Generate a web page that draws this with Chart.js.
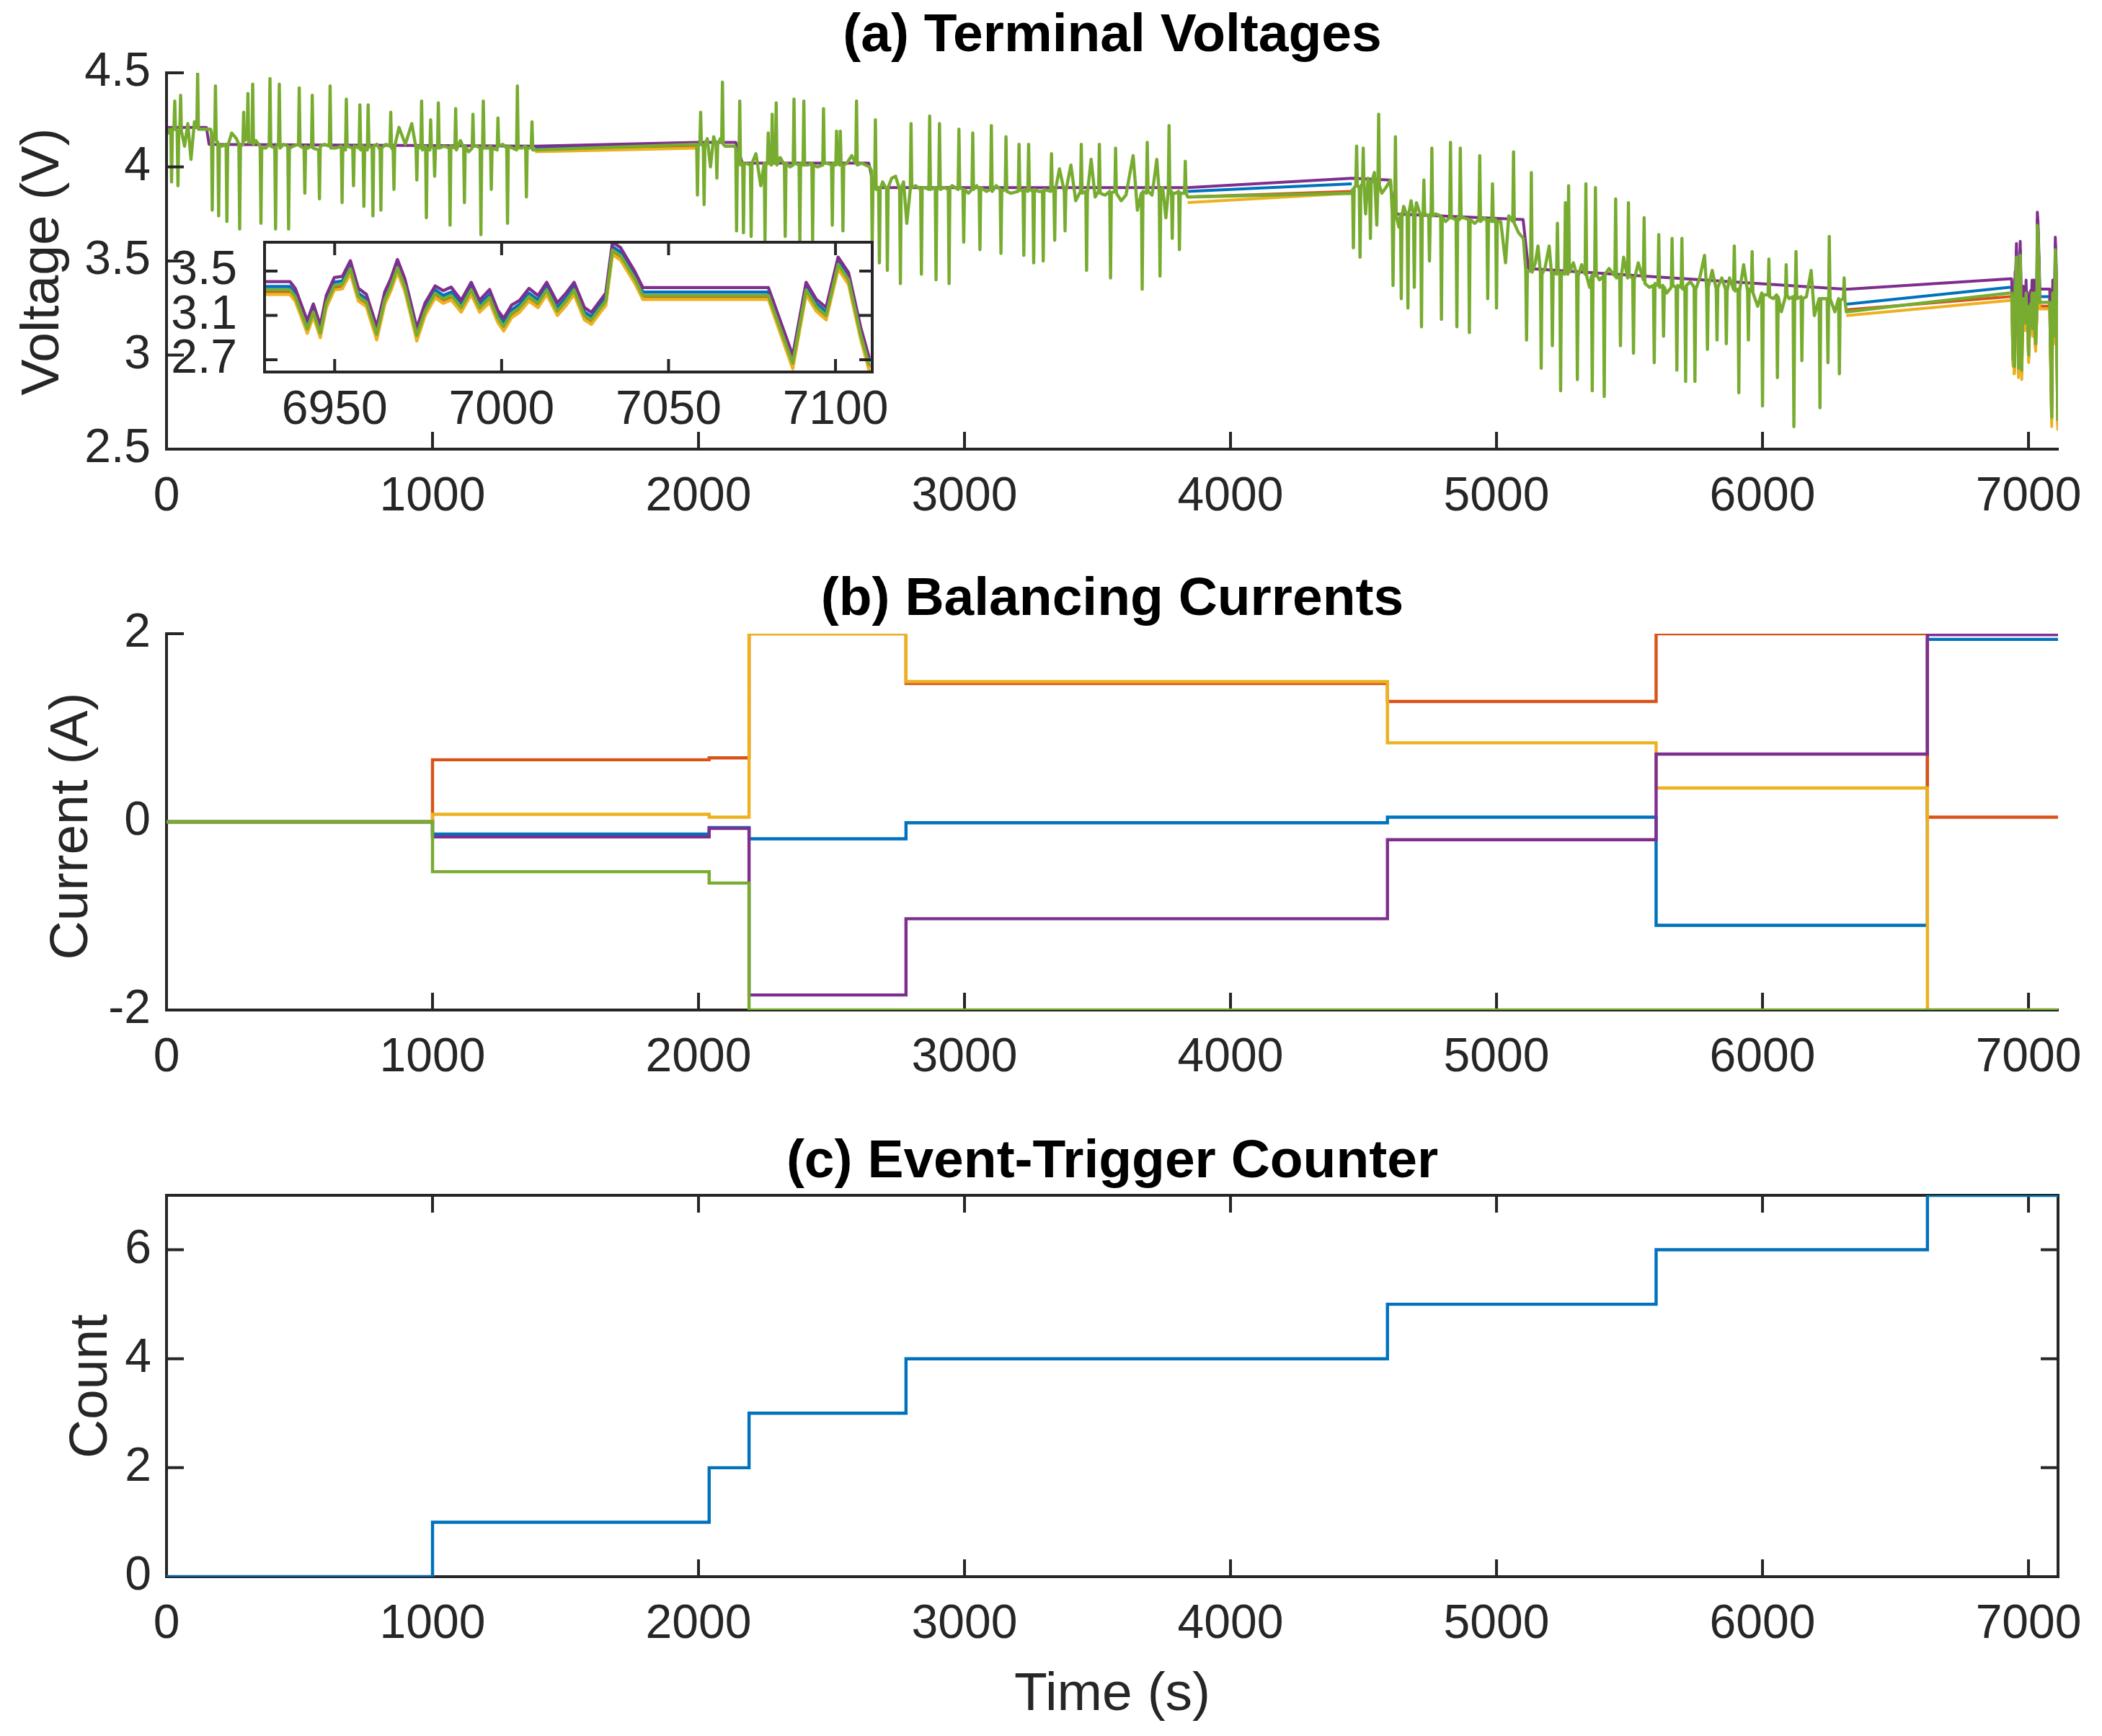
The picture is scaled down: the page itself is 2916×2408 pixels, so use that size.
<!DOCTYPE html>
<html>
<head>
<meta charset="utf-8">
<title>Terminal voltages, balancing currents and event-trigger counter</title>
<script src="https://cdn.jsdelivr.net/npm/chart.js@4.4.1/dist/chart.umd.min.js"></script>
<style>
  html, body { margin: 0; padding: 0; background: #fff; }
  #fig { position: relative; width: 2916px; height: 2408px; background: #fff; overflow: hidden; }
  #fig canvas { position: absolute; left: 0; }
</style>
</head>
<body>
<div id="fig">
  <canvas id="voltChart" width="2916" height="780" style="top:0"></canvas>
  <canvas id="insetChart" width="1300" height="390" style="top:250px"></canvas>
  <canvas id="currentChart" width="2916" height="760" style="top:780px"></canvas>
  <canvas id="countChart" width="2916" height="868" style="top:1540px"></canvas>
</div>
<script>
// ---- tick labels ----
const timeTicks = [0, 1000, 2000, 3000, 4000, 5000, 6000, 7000];
const voltTicks = [2.5, 3, 3.5, 4, 4.5];
const currentTicks = [-2, 0, 2];
const countTicks = [0, 2, 4, 6];
const insetTimeTicks = [6950, 7000, 7050, 7100];
const insetVoltTicks = [2.7, 3.1, 3.5];

const cellNames = ['Cell 1', 'Cell 2', 'Cell 3', 'Cell 4', 'Cell 5'];

// ---- (a) terminal voltage of cell 5 (green, drawn on top) ----
const burst1Time = [0, 8, 16, 19, 22, 28, 31, 34, 40, 43,
  46, 50, 53, 56, 68, 80, 92, 105, 114, 117,
  120, 127, 166, 169, 172, 175, 181, 184, 187, 193,
  196, 199, 208, 224, 227, 230, 245, 263, 272, 275,
  278, 287, 290, 293, 303, 306, 309, 321, 324, 327,
  336, 352, 355, 358, 373, 386, 389, 392, 407, 410,
  413, 421, 424, 427, 440, 456, 459, 462, 477, 496,
  499, 502, 517, 520, 523, 532, 545, 548, 551, 572,
  575, 578, 593, 612, 615, 618, 636, 657, 660, 663,
  673, 676, 679, 700, 703, 706, 724, 727, 730, 739,
  742, 745, 755, 758, 761, 773, 776, 779, 791, 803,
  806, 809, 825, 840, 843, 846, 852, 855, 858, 874,
  898, 922, 938, 941, 944, 956, 959, 962, 974, 977,
  980, 990, 993, 996, 1005, 1008, 1011, 1019, 1022, 1025,
  1044, 1063, 1066, 1069, 1084, 1087, 1090, 1105, 1117, 1120,
  1123, 1136, 1149, 1152, 1155, 1167, 1179, 1182, 1185, 1188,
  1191, 1194, 1209, 1218, 1221, 1224, 1243, 1246, 1249, 1264,
  1279, 1282, 1285, 1301, 1316, 1319, 1322, 1337, 1350, 1353,
  1356, 1371, 1374, 1377, 1386];
const burst1Cell5 = [4.21, 4.18, 4.20, 3.92, 4.19, 4.21, 4.35, 4.20, 4.19, 3.90,
  4.18, 4.20, 4.38, 4.19, 4.11, 4.23, 4.04, 4.24, 4.21, 4.50,
  4.20, 4.20, 4.20, 4.18, 3.77, 4.17, 4.15, 4.43, 4.14, 4.13,
  3.74, 4.12, 4.11, 4.12, 3.71, 4.11, 4.18, 4.15, 4.12, 3.67,
  4.11, 4.12, 4.29, 4.14, 4.15, 4.39, 4.13, 4.13, 4.44, 4.12,
  4.14, 4.11, 3.70, 4.10, 4.10, 4.12, 4.47, 4.11, 4.10, 3.67,
  4.11, 4.12, 4.44, 4.10, 4.12, 4.11, 3.67, 4.10, 4.11, 4.12,
  4.42, 4.11, 4.10, 3.86, 4.11, 4.10, 4.11, 4.38, 4.10, 4.09,
  3.83, 4.11, 4.12, 4.11, 4.43, 4.10, 4.10, 4.11, 3.81, 4.10,
  4.09, 4.36, 4.11, 4.10, 3.90, 4.11, 4.10, 4.33, 4.09, 4.11,
  3.79, 4.10, 4.09, 4.33, 4.11, 4.10, 3.74, 4.11, 4.12, 4.09,
  3.77, 4.10, 4.12, 4.11, 4.29, 4.10, 4.09, 3.88, 4.11, 4.21,
  4.12, 4.23, 4.10, 3.93, 4.11, 4.10, 4.35, 4.09, 4.11, 3.73,
  4.10, 4.09, 4.25, 4.11, 4.10, 3.95, 4.09, 4.11, 4.34, 4.10,
  4.11, 4.10, 3.69, 4.11, 4.10, 4.31, 4.09, 4.14, 4.10, 3.81,
  4.11, 4.08, 4.10, 4.28, 4.11, 4.11, 4.10, 3.64, 4.09, 4.11,
  4.35, 4.10, 4.10, 4.11, 3.88, 4.10, 4.09, 4.26, 4.11, 4.12,
  4.10, 3.70, 4.11, 4.10, 4.09, 4.43, 4.10, 4.10, 4.11, 3.84,
  4.10, 4.10, 4.24, 4.09, 4.09];

const burst2Time = [1990, 1993, 1996, 1999, 2005, 2008, 2011, 2018, 2021, 2024,
  2033, 2045, 2057, 2066, 2069, 2072, 2082, 2087, 2090, 2093,
  2100, 2136, 2140, 2143, 2146, 2152, 2155, 2158, 2166, 2169,
  2172, 2179, 2195, 2198, 2201, 2216, 2234, 2247, 2250, 2253,
  2259, 2262, 2265, 2274, 2277, 2280, 2289, 2292, 2295, 2307,
  2323, 2326, 2329, 2344, 2356, 2359, 2362, 2378, 2381, 2384,
  2393, 2396, 2399, 2411, 2426, 2429, 2432, 2448, 2467, 2470,
  2473, 2484, 2500, 2503, 2506, 2516, 2519, 2522, 2530, 2533,
  2536, 2540, 2543, 2546, 2558, 2576, 2591, 2594, 2597, 2613,
  2643, 2650, 2653, 2656, 2662, 2665, 2668, 2677, 2680, 2683,
  2692, 2707, 2710, 2713, 2726, 2741, 2756, 2759, 2762, 2771,
  2783, 2796, 2799, 2802, 2816, 2835, 2838, 2841, 2851, 2866,
  2869, 2872, 2890, 2893, 2896, 2903, 2906, 2909, 2924, 2939,
  2942, 2945, 2954, 2976, 2979, 2982, 2994, 2997, 3000, 3015,
  3028, 3031, 3034, 3046, 3055, 3058, 3061, 3082, 3098, 3101,
  3104, 3119, 3134, 3137, 3140, 3153, 3156, 3159, 3174, 3202,
  3205, 3208, 3220, 3223, 3226, 3238, 3241, 3244, 3257, 3260,
  3263, 3278, 3293, 3296, 3299, 3324, 3327, 3330, 3336, 3339,
  3342, 3357, 3375, 3378, 3381, 3400, 3418, 3436, 3439, 3442,
  3456, 3459, 3462, 3476, 3491, 3504, 3507, 3510, 3528, 3546,
  3549, 3552, 3565, 3568, 3571, 3589, 3607, 3634, 3650, 3665,
  3668, 3671, 3684, 3687, 3690, 3705, 3723, 3732, 3735, 3738,
  3745, 3757, 3766, 3769, 3772, 3778, 3781, 3784, 3793, 3805,
  3808, 3811, 3827, 3830, 3833, 3839];
const burst2Cell5 = [4.12, 4.12, 3.85, 4.11, 4.12, 4.29, 4.12, 4.11, 3.80, 4.12,
  4.15, 4.00, 4.16, 4.12, 3.94, 4.12, 4.15, 4.13, 4.45, 4.12,
  4.11, 4.11, 4.10, 3.66, 4.02, 4.02, 4.35, 4.01, 4.02, 3.65,
  4.01, 4.02, 4.01, 3.63, 4.02, 4.07, 3.90, 4.02, 3.61, 4.01,
  4.02, 4.18, 4.02, 4.01, 4.28, 4.02, 4.02, 4.34, 4.01, 4.05,
  4.01, 3.63, 4.02, 4.00, 4.01, 4.36, 4.02, 4.01, 3.60, 4.02,
  4.01, 4.35, 4.01, 4.01, 4.02, 3.61, 4.01, 4.00, 4.01, 4.31,
  4.02, 4.02, 4.01, 3.69, 4.02, 4.01, 4.19, 4.02, 4.01, 4.19,
  4.02, 4.01, 3.66, 4.01, 4.02, 4.06, 4.02, 4.35, 4.01, 4.02,
  4.00, 3.98, 3.60, 3.90, 3.89, 4.25, 3.88, 3.89, 3.49, 3.88,
  3.92, 3.88, 3.45, 3.89, 3.94, 3.95, 3.88, 3.38, 3.89, 3.92,
  3.70, 3.88, 4.23, 3.89, 3.90, 3.88, 3.43, 3.89, 3.89, 3.88,
  4.27, 3.88, 3.89, 3.40, 3.88, 3.89, 4.23, 3.88, 3.89, 3.88,
  3.38, 3.89, 3.90, 3.88, 4.20, 3.89, 3.88, 3.60, 3.88, 3.86,
  3.88, 4.18, 3.88, 3.90, 3.88, 3.56, 3.89, 3.87, 3.88, 4.22,
  3.87, 3.90, 3.88, 3.54, 3.87, 3.88, 4.16, 3.87, 3.86, 3.87,
  4.12, 3.88, 3.87, 3.53, 3.88, 3.87, 4.12, 3.88, 3.87, 3.49,
  3.88, 3.87, 3.87, 3.50, 3.88, 3.87, 4.07, 3.88, 3.87, 3.61,
  3.88, 3.99, 3.87, 3.66, 3.87, 4.01, 3.82, 3.87, 4.12, 3.86,
  3.87, 3.45, 3.86, 4.04, 3.84, 3.87, 4.12, 3.86, 3.85, 3.87,
  3.41, 3.86, 3.87, 4.10, 3.86, 3.82, 3.85, 4.06, 3.77, 3.86,
  3.35, 3.87, 3.86, 4.13, 3.87, 3.85, 4.04, 3.86, 3.42, 3.87,
  3.89, 3.73, 3.87, 4.22, 3.86, 3.87, 3.62, 3.86, 3.86, 3.87,
  3.56, 3.86, 3.86, 4.03, 3.86, 3.84];

const burst3Time = [4456, 4459, 4462, 4465, 4471, 4474, 4477, 4484, 4487, 4490,
  4496, 4499, 4502, 4508, 4517, 4523, 4526, 4529, 4541, 4550,
  4554, 4557, 4560, 4569, 4584, 4602, 4608, 4611, 4614, 4617,
  4620, 4623, 4633, 4639, 4642, 4645, 4651, 4664, 4667, 4670,
  4679, 4688, 4691, 4694, 4699, 4715, 4718, 4721, 4724, 4727,
  4730, 4745, 4748, 4751, 4754, 4757, 4760, 4772, 4790, 4793,
  4796, 4809, 4824, 4827, 4830, 4848, 4851, 4854, 4861, 4864,
  4867, 4876, 4895, 4898, 4901, 4918, 4934, 4937, 4940, 4955,
  4964, 4967, 4970, 4982, 4985, 4988, 4997, 5000, 5003, 5016,
  5034, 5046, 5061, 5064, 5067, 5083, 5101, 5110, 5113, 5116,
  5128, 5131, 5134, 5146, 5156, 5165, 5168, 5171, 5182, 5198,
  5207, 5210, 5213, 5226, 5229, 5232, 5238, 5241, 5244, 5256,
  5259, 5262, 5268, 5271, 5274, 5289, 5301, 5304, 5307, 5320,
  5333, 5336, 5339, 5350, 5357, 5360, 5363, 5369, 5372, 5375,
  5387, 5402, 5405, 5408, 5423, 5445, 5448, 5451, 5463, 5466,
  5469, 5478, 5493, 5496, 5499, 5512, 5515, 5518, 5533, 5552,
  5555, 5558, 5575, 5590, 5593, 5596, 5607, 5610, 5613, 5625,
  5628, 5631, 5640, 5657, 5660, 5663, 5675, 5678, 5681, 5694,
  5697, 5700, 5708, 5711, 5714, 5729, 5743, 5746, 5749, 5764,
  5782, 5790, 5793, 5796, 5811, 5826, 5829, 5832, 5847, 5861,
  5864, 5867, 5876, 5891, 5894, 5897, 5908, 5911, 5914, 5929,
  5944, 5947, 5950, 5958, 5961, 5964, 5982, 5997, 6000, 6003,
  6021, 6024, 6027, 6041, 6053, 6056, 6059, 6071, 6086, 6089,
  6092, 6100, 6115, 6118, 6121, 6123, 6126, 6129, 6145, 6148,
  6151, 6165, 6183, 6195, 6213, 6216, 6219, 6230, 6243, 6246,
  6249, 6251, 6254, 6272, 6286, 6289, 6292, 6304, 6307, 6310,
  6315];
const burst3Cell5 = [3.86, 3.88, 3.57, 3.89, 3.90, 4.11, 3.90, 3.89, 3.52, 3.90,
  3.91, 4.10, 3.90, 3.75, 3.94, 3.90, 3.62, 3.91, 3.97, 3.69,
  3.90, 4.28, 3.90, 3.86, 3.89, 3.93, 3.76, 3.37, 3.75, 3.75,
  4.16, 3.74, 3.68, 3.75, 3.30, 3.74, 3.79, 3.74, 3.25, 3.75,
  3.82, 3.74, 3.36, 3.75, 3.81, 3.74, 3.15, 3.75, 3.74, 3.93,
  3.75, 3.74, 3.50, 3.75, 3.74, 4.10, 3.74, 3.75, 3.74, 3.19,
  3.73, 3.71, 3.73, 4.13, 3.73, 3.72, 3.15, 3.73, 3.72, 4.10,
  3.73, 3.73, 3.72, 3.12, 3.72, 3.70, 3.72, 4.06, 3.71, 3.73,
  3.71, 3.30, 3.72, 3.71, 3.91, 3.71, 3.72, 3.25, 3.71, 3.71,
  3.49, 3.74, 3.71, 4.08, 3.70, 3.65, 3.62, 3.45, 3.08, 3.44,
  3.45, 3.97, 3.44, 3.49, 3.58, 3.44, 2.93, 3.43, 3.46, 3.58,
  3.43, 3.05, 3.44, 3.43, 3.70, 3.44, 3.43, 2.81, 3.44, 3.43,
  3.81, 3.44, 3.43, 3.90, 3.44, 3.49, 3.43, 2.87, 3.42, 3.48,
  3.43, 3.91, 3.42, 3.36, 3.42, 2.81, 3.43, 3.42, 3.89, 3.43,
  3.40, 3.42, 2.78, 3.43, 3.46, 3.42, 3.83, 3.41, 3.42, 3.05,
  3.41, 3.52, 3.41, 3.81, 3.42, 3.41, 3.01, 3.40, 3.49, 3.40,
  3.73, 3.38, 3.36, 3.37, 2.96, 3.38, 3.37, 3.64, 3.36, 3.37,
  3.10, 3.36, 3.33, 3.36, 3.62, 3.37, 3.36, 2.92, 3.37, 3.36,
  3.62, 3.35, 3.36, 2.86, 3.37, 3.39, 3.36, 2.86, 3.35, 3.41,
  3.53, 3.35, 3.03, 3.36, 3.45, 3.35, 3.08, 3.36, 3.41, 3.35,
  3.06, 3.34, 3.41, 3.35, 3.58, 3.34, 3.35, 2.80, 3.34, 3.48,
  3.34, 3.08, 3.35, 3.34, 3.55, 3.33, 3.26, 3.33, 2.73, 3.32,
  3.32, 3.51, 3.31, 3.30, 3.32, 2.88, 3.31, 3.23, 3.31, 3.48,
  3.32, 3.30, 3.31, 2.62, 3.31, 3.31, 3.55, 3.30, 3.31, 2.97,
  3.30, 3.31, 3.45, 3.21, 3.30, 2.72, 3.30, 3.30, 3.30, 2.96,
  3.31, 3.63, 3.30, 3.23, 3.30, 2.90, 3.29, 3.30, 3.41, 3.29,
  3.23];

// cells 1-4 across the rest periods (null = hidden under the green bursts)
const bandTime = [0, 150, 160, 1386, 1990, 2140, 2165, 2640, 2660, 3839, 4456, 4600, 4615, 5100, 5120, 6315];
const bandCell1 = [null, null, null, 4.10, 4.12, null, null, null, null, 3.87, 3.91, null, null, null, null, 3.27];
const bandCell2 = [null, null, null, 4.09, 4.11, null, null, null, null, 3.84, 3.87, null, null, null, null, 3.24];
const bandCell3 = [null, null, null, 4.08, 4.10, null, null, null, null, 3.81, 3.86, null, null, null, null, 3.21];
const bandCell4 = [4.21, 4.21, 4.12, 4.11, 4.13, 4.13, 4.02, 4.02, 3.89, 3.89, 3.94, 3.93, 3.75, 3.72, 3.46, 3.35];

// last burst, all five cells (also shown in the inset)
const tailTime = [6929, 6936.6, 6938.2, 6941.8, 6943.6, 6945.7, 6947.5, 6949.9, 6952.3, 6954.7,
  6957.1, 6959.5, 6962.6, 6965.0, 6966.8, 6968.8, 6971.0, 6972.8, 6974.6, 6977.1,
  6980.1, 6982.5, 6984.9, 6987.9, 6990.9, 6993.4, 6996.4, 6998.8, 7000.6, 7003.0,
  7005.4, 7008.2, 7010.9, 7013.5, 7016.7, 7019.3, 7021.7, 7024.8, 7026.9, 7029.6,
  7031.2, 7033.2, 7035.6, 7039.9, 7042.3, 7079.9, 7087.2, 7091.2, 7094.2, 7097.2,
  7100.8, 7103.9, 7107.5, 7110.1];
const tailCell1 = [3.36, 3.36, 3.30, 3.01, 3.16, 2.97, 3.24, 3.40, 3.41, 3.55,
  3.30, 3.25, 2.96, 3.27, 3.39, 3.56, 3.39, 3.17, 2.95, 3.17,
  3.33, 3.28, 3.31, 3.20, 3.36, 3.20, 3.29, 3.11, 3.04, 3.15,
  3.20, 3.30, 3.24, 3.36, 3.17, 3.26, 3.36, 3.13, 3.09, 3.20,
  3.26, 3.72, 3.67, 3.46, 3.31, 3.31, 2.70, 3.36, 3.21, 3.13,
  3.59, 3.45, 2.96, 2.68];
const tailCell2 = [3.31, 3.31, 3.25, 2.96, 3.11, 2.92, 3.19, 3.35, 3.36, 3.50,
  3.25, 3.20, 2.91, 3.22, 3.34, 3.51, 3.34, 3.12, 2.90, 3.12,
  3.28, 3.23, 3.26, 3.15, 3.31, 3.15, 3.24, 3.06, 2.98, 3.10,
  3.15, 3.25, 3.19, 3.31, 3.12, 3.21, 3.31, 3.08, 3.04, 3.15,
  3.21, 3.67, 3.62, 3.41, 3.26, 3.26, 2.65, 3.31, 3.16, 3.08,
  3.54, 3.40, 2.91, 2.63];
const tailCell3 = [3.29, 3.29, 3.23, 2.94, 3.09, 2.90, 3.17, 3.33, 3.34, 3.48,
  3.23, 3.18, 2.88, 3.20, 3.32, 3.49, 3.32, 3.10, 2.87, 3.10,
  3.26, 3.21, 3.24, 3.13, 3.29, 3.13, 3.22, 3.04, 2.96, 3.08,
  3.13, 3.23, 3.17, 3.29, 3.10, 3.19, 3.29, 3.06, 3.02, 3.13,
  3.19, 3.65, 3.60, 3.39, 3.245, 3.245, 2.62, 3.29, 3.14, 3.06,
  3.52, 3.38, 2.89, 2.60];
const tailCell4 = [3.405, 3.405, 3.344, 3.052, 3.203, 3.009, 3.279, 3.442, 3.452, 3.593,
  3.344, 3.290, 2.998, 3.312, 3.431, 3.604, 3.431, 3.214, 2.987, 3.214,
  3.366, 3.323, 3.355, 3.236, 3.398, 3.236, 3.333, 3.149, 3.074, 3.193,
  3.236, 3.344, 3.279, 3.398, 3.214, 3.301, 3.398, 3.171, 3.128, 3.236,
  3.301, 3.760, 3.712, 3.496, 3.351, 3.351, 2.738, 3.398, 3.247, 3.171,
  3.626, 3.485, 2.998, 2.716];
const tailCell5 = [3.33, 3.33, 3.27, 2.98, 3.13, 2.94, 3.21, 3.37, 3.38, 3.52,
  3.27, 3.22, 2.93, 3.24, 3.36, 3.53, 3.36, 3.14, 2.92, 3.14,
  3.30, 3.25, 3.28, 3.17, 3.33, 3.17, 3.26, 3.08, 3.00, 3.12,
  3.17, 3.27, 3.21, 3.33, 3.14, 3.23, 3.33, 3.10, 3.06, 3.17,
  3.23, 3.69, 3.64, 3.43, 3.28, 3.28, 2.67, 3.33, 3.18, 3.10,
  3.56, 3.42, 2.93, 2.65];

// ---- (b) balancing currents, (c) counter: value that starts at each switch time ----
const switchTimes = [0, 1000, 2040, 2190, 2780, 4590, 5600, 6620, 7111];
const currentCell1 = [0, -0.13, -0.06, -0.18, -0.01, 0.05, -1.10, 1.94, 1.94];
const currentCell2 = [0, 0.66, 0.68, 2.00, 1.47, 1.28, 2.00, 0.05, 0.05];
const currentCell3 = [0, 0.08, 0.05, 2.00, 1.49, 0.84, 0.36, -2.00, -2.00];
const currentCell4 = [0, -0.16, -0.07, -1.84, -1.03, -0.19, 0.72, 1.99, 1.99];
const currentCell5 = [0, -0.53, -0.65, -2.00, -2.00, -2.00, -2.00, -2.00, -2.00];
const triggerCount = [0, 1, 2, 3, 4, 5, 6, 7, 7];

// ---- styling ----
const AXIS_COLOR = '#262626';
const FONT_FAMILY = '"Liberation Sans", Arial, Helvetica, sans-serif';
const TICK_FONT = { family: FONT_FAMILY, size: 66 };
const CELL_COLORS = ['#0072BD', '#D95319', '#EDB120', '#7E2F8E', '#77AC30'];

Chart.defaults.font.family = FONT_FAMILY;
Chart.defaults.animation = false;

function toPoints(times, values) {
  return times.map((t, i) => ({ x: t, y: values[i] }));
}

function makeScale(opts) {
  return {
    type: 'linear',
    min: opts.min,
    max: opts.max,
    afterBuildTicks: (scale) => { scale.ticks = opts.ticks.map((v) => ({ value: v })); },
    afterFit: (scale) => {
      if (opts.horizontal) scale.height = opts.size; else scale.width = opts.size;
    },
    grid: { display: false, drawTicks: false },
    border: { display: true, color: AXIS_COLOR, width: 4, z: opts.under ? 0 : 1 },
    ticks: {
      color: AXIS_COLOR,
      font: TICK_FONT,
      padding: opts.padding,
      autoSkip: false,
      maxRotation: 0,
      callback: opts.format || ((v) => String(v))
    }
  };
}

// MATLAB-style inward ticks, optional box
function drawTickMarks(chart, opts) {
  const { ctx, chartArea: a } = chart;
  const xs = chart.scales.x;
  const ys = chart.scales.y;
  const len = opts.length || 24;
  ctx.save();
  ctx.strokeStyle = AXIS_COLOR;
  ctx.lineWidth = 4;
  ctx.beginPath();
  xs.ticks.forEach((t) => {
    const px = xs.getPixelForValue(t.value);
    ctx.moveTo(px, a.bottom);
    ctx.lineTo(px, a.bottom - len);
    if (opts.box) { ctx.moveTo(px, a.top); ctx.lineTo(px, a.top + len); }
  });
  ys.ticks.forEach((t) => {
    const py = ys.getPixelForValue(t.value);
    ctx.moveTo(a.left, py);
    ctx.lineTo(a.left + len, py);
    if (opts.box) { ctx.moveTo(a.right, py); ctx.lineTo(a.right - len, py); }
  });
  if (opts.box) {
    ctx.moveTo(a.left - 2, a.top);
    ctx.lineTo(a.right, a.top);
    ctx.lineTo(a.right, a.bottom + 2);
  }
  ctx.stroke();
  ctx.restore();
}

const tickMarks = {
  id: 'tickMarks',
  beforeDatasetsDraw(chart, args, opts) { if (opts.under) drawTickMarks(chart, opts); },
  afterDraw(chart, args, opts) { if (!opts.under) drawTickMarks(chart, opts); }
};

// titles and axis labels
const panelText = {
  id: 'panelText',
  afterDraw(chart, args, o) {
    const ctx = chart.ctx;
    ctx.save();
    ctx.textAlign = 'center';
    ctx.textBaseline = 'alphabetic';
    if (o.title) {
      ctx.fillStyle = '#000';
      ctx.font = 'bold 75px ' + FONT_FAMILY;
      ctx.fillText(o.title, 1543, o.titleY);
    }
    ctx.fillStyle = AXIS_COLOR;
    ctx.font = '75px ' + FONT_FAMILY;
    if (o.xlabel) ctx.fillText(o.xlabel, 1543, o.xlabelY);
    if (o.ylabel) {
      ctx.translate(o.ylabelX, o.ylabelY);
      ctx.rotate(-Math.PI / 2);
      ctx.fillText(o.ylabel, 0, 0);
    }
    ctx.restore();
  }
};

const areaFill = {
  id: 'areaFill',
  beforeDraw(chart) {
    const { ctx, chartArea: a } = chart;
    ctx.save();
    ctx.fillStyle = '#fff';
    ctx.fillRect(a.left, a.top, a.right - a.left, a.bottom - a.top);
    ctx.restore();
  }
};

// ---- (a) Terminal Voltages ----
const cellBands = [bandCell1, bandCell2, bandCell3, bandCell4];
const cellTails = [tailCell1, tailCell2, tailCell3, tailCell4, tailCell5];
const greenTime = burst1Time.concat(burst2Time, burst3Time, tailTime);
const greenVolt = burst1Cell5.concat(burst2Cell5, burst3Cell5, tailCell5);

const voltSets = cellBands.map((band, i) => ({
  label: cellNames[i],
  data: toPoints(bandTime.concat(tailTime), band.concat(cellTails[i])),
  borderColor: CELL_COLORS[i],
  borderWidth: 4,
  spanGaps: false,
  order: 5 - i
}));
voltSets.push({
  label: cellNames[4],
  data: toPoints(greenTime, greenVolt),
  borderColor: CELL_COLORS[4],
  borderWidth: 4.4,
  order: 0
});

new Chart(document.getElementById('voltChart'), {
  type: 'line',
  data: { datasets: voltSets },
  options: {
    responsive: false,
    devicePixelRatio: 1,
    layout: { padding: { left: 0, right: 61, top: 101, bottom: 0 } },
    elements: { point: { radius: 0 }, line: { tension: 0, borderJoinStyle: 'round' } },
    scales: {
      x: makeScale({ min: 0, max: 7111, ticks: timeTicks, horizontal: true, size: 157, padding: 27 }),
      y: makeScale({ min: 2.5, max: 4.5, ticks: voltTicks, size: 231, padding: 22 })
    },
    plugins: {
      legend: { display: false },
      tooltip: { enabled: false },
      tickMarks: { length: 24, box: false },
      panelText: { title: '(a) Terminal Voltages', titleY: 71, ylabel: 'Voltage (V)', ylabelX: 81, ylabelY: 363 }
    }
  },
  plugins: [tickMarks, panelText]
});

// ---- inset of the last burst ----
new Chart(document.getElementById('insetChart'), {
  type: 'line',
  data: {
    datasets: cellTails.map((vals, i) => ({
      label: cellNames[i],
      data: toPoints(tailTime, vals),
      borderColor: CELL_COLORS[i],
      borderWidth: 4.4,
      order: 4 - i
    }))
  },
  options: {
    responsive: false,
    devicePixelRatio: 1,
    layout: { padding: { left: 0, right: 90, top: 86, bottom: 0 } },
    elements: { point: { radius: 0 }, line: { tension: 0, borderJoinStyle: 'round' } },
    scales: {
      x: makeScale({ min: 6929, max: 7111, ticks: insetTimeTicks, horizontal: true, size: 124, padding: 14 }),
      y: makeScale({ min: 2.59, max: 3.76, ticks: insetVoltTicks, size: 367, padding: 38, format: (v) => v.toFixed(1) })
    },
    plugins: {
      legend: { display: false },
      tooltip: { enabled: false },
      tickMarks: { length: 18, box: true }
    }
  },
  plugins: [areaFill, tickMarks]
});

// ---- (b) Balancing Currents ----
const currentCells = [currentCell1, currentCell2, currentCell3, currentCell4, currentCell5];
new Chart(document.getElementById('currentChart'), {
  type: 'line',
  data: {
    datasets: currentCells.map((vals, i) => ({
      label: cellNames[i],
      data: toPoints(switchTimes, vals),
      borderColor: CELL_COLORS[i],
      borderWidth: 4.4,
      stepped: 'before',
      order: 4 - i
    }))
  },
  options: {
    responsive: false,
    devicePixelRatio: 1,
    layout: { padding: { left: 0, right: 61, top: 99, bottom: 0 } },
    elements: { point: { radius: 0 } },
    scales: {
      x: makeScale({ min: 0, max: 7111, ticks: timeTicks, horizontal: true, size: 139, padding: 27, under: true }),
      y: makeScale({ min: -2, max: 2, ticks: currentTicks, size: 231, padding: 22, under: true })
    },
    plugins: {
      legend: { display: false },
      tooltip: { enabled: false },
      tickMarks: { length: 24, box: false, under: true },
      panelText: { title: '(b) Balancing Currents', titleY: 73, ylabel: 'Current (A)', ylabelX: 121, ylabelY: 366 }
    }
  },
  plugins: [tickMarks, panelText]
});

// ---- (c) Event-Trigger Counter ----
new Chart(document.getElementById('countChart'), {
  type: 'line',
  data: {
    datasets: [{
      label: 'Count',
      data: toPoints(switchTimes, triggerCount),
      borderColor: CELL_COLORS[0],
      borderWidth: 4.4,
      stepped: 'before'
    }]
  },
  options: {
    responsive: false,
    devicePixelRatio: 1,
    layout: { padding: { left: 0, right: 61, top: 118, bottom: 0 } },
    elements: { point: { radius: 0 } },
    scales: {
      x: makeScale({ min: 0, max: 7111, ticks: timeTicks, horizontal: true, size: 221, padding: 27, under: true }),
      y: makeScale({ min: 0, max: 7, ticks: countTicks, size: 231, padding: 21, under: true })
    },
    plugins: {
      legend: { display: false },
      tooltip: { enabled: false },
      tickMarks: { length: 24, box: true, under: true },
      panelText: { title: '(c) Event-Trigger Counter', titleY: 93, ylabel: 'Count', ylabelX: 148, ylabelY: 383, xlabel: 'Time (s)', xlabelY: 832 }
    }
  },
  plugins: [tickMarks, panelText]
});
</script>
</body>
</html>
